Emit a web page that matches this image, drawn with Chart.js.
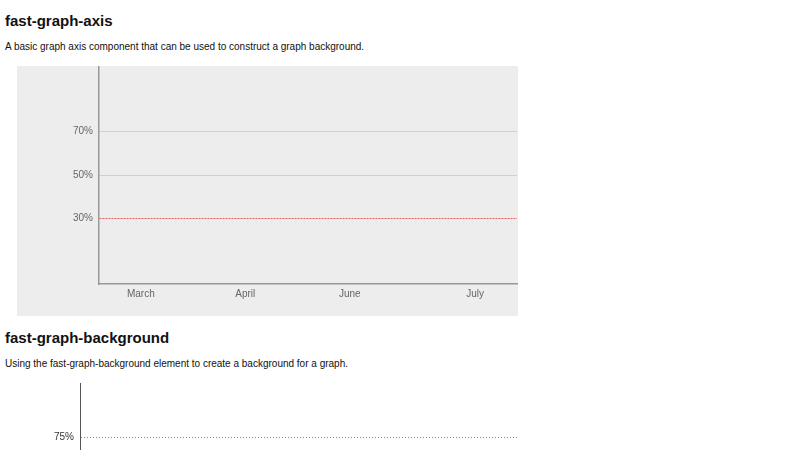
<!DOCTYPE html>
<html>
<head>
<meta charset="utf-8">
<script src="https://cdn.jsdelivr.net/npm/chart.js@4/dist/chart.umd.min.js"></script>
<style>
  html, body { margin: 0; padding: 0; background: #fff; font-family: "Liberation Sans", Arial, sans-serif; color: #111; }
  .h { position: absolute; left: 5px; margin: 0; font-size: 15px; font-weight: bold; line-height: 18px; }
  .p { position: absolute; left: 5px; margin: 0; font-size: 10px; line-height: 12px; }
  .box { position: absolute; }
</style>
</head>
<body>
<div class="h" style="top:12px">fast-graph-axis</div>
<div class="p" style="top:41px">A basic graph axis component that can be used to construct a graph background.</div>
<div class="box" style="left:17px; top:66px; width:501px; height:250px; background:#ededed;">
  <canvas id="c1"></canvas>
</div>
<div class="h" style="top:329px">fast-graph-background</div>
<div class="p" style="top:358px">Using the fast-graph-background element to create a background for a graph.</div>
<div class="box" style="left:0px; top:383px; width:519px; height:250px;">
  <canvas id="c2"></canvas>
</div>
<script>
// ---- Data ----
const xTickValues = [0.1, 0.35, 0.6, 0.9];
const xTickLabels = ['March', 'April', 'June', 'July'];
const yTickValues1 = [30, 50, 70];
const yHighlight1 = 30;
const yTickValues2 = [75];

const FONT = { family: '"Liberation Sans", Arial, sans-serif', size: 10 };

function fixedTicks(values) {
  return function (scale) { scale.ticks = values.map(v => ({ value: v })); };
}
function noPadY(width) {
  return function (s) { s.width = width; s.paddingTop = 0; s.paddingBottom = 0; };
}
function noPadX(height) {
  return function (s) { s.height = height; s.paddingLeft = 0; s.paddingRight = 0; };
}

// ---- Chart 1: fast-graph-axis ----
new Chart(document.getElementById('c1'), {
  type: 'line',
  data: { datasets: [{ data: [] }] },
  options: {
    responsive: true,
    maintainAspectRatio: false,
    animation: false,
    layout: { padding: { top: 0, right: 1, bottom: 0, left: 0 } },
    plugins: { legend: { display: false }, tooltip: { enabled: false } },
    scales: {
      x: {
        type: 'linear', min: 0, max: 1,
        afterBuildTicks: fixedTicks(xTickValues),
        afterFit: noPadX(32),
        ticks: {
          color: '#666', font: FONT, padding: 4, maxRotation: 0, autoSkip: false,
          callback: v => { const i = xTickValues.indexOf(v); return i >= 0 ? xTickLabels[i] : ''; }
        },
        grid: { display: false, drawTicks: false },
        border: { display: true, color: '#999', width: 1.5 }
      },
      y: {
        type: 'linear', min: 0, max: 100,
        afterBuildTicks: fixedTicks(yTickValues1),
        afterFit: noPadY(82),
        ticks: { color: '#666', font: FONT, padding: 6, callback: v => v + '%' },
        grid: {
          drawTicks: false,
          lineWidth: 1,
          color: ctx => (ctx.tick && ctx.tick.value === yHighlight1) ? '#e06060' : '#d0d0d0'
        },
        border: {
          display: true, color: '#999', width: 1.5,
          dash: ctx => (ctx.type === 'tick' && ctx.tick && ctx.tick.value === yHighlight1) ? [2, 1] : []
        }
      }
    }
  }
});

// ---- Chart 2: fast-graph-background ----
new Chart(document.getElementById('c2'), {
  type: 'line',
  data: { datasets: [{ data: [] }] },
  options: {
    responsive: true,
    maintainAspectRatio: false,
    animation: false,
    layout: { padding: { top: 0, right: 1, bottom: 0, left: 0 } },
    plugins: { legend: { display: false }, tooltip: { enabled: false } },
    scales: {
      x: {
        type: 'linear', min: 0, max: 1,
        display: true,
        afterBuildTicks: s => { s.ticks = []; },
        afterFit: noPadX(32),
        grid: { display: false, drawTicks: false },
        border: { display: true, color: '#555', width: 1 },
        ticks: { display: false }
      },
      y: {
        type: 'linear', min: 0, max: 100,
        afterBuildTicks: fixedTicks(yTickValues2),
        afterFit: noPadY(80),
        ticks: { color: '#333', font: FONT, padding: 6, callback: v => v + '%' },
        grid: { drawTicks: false, lineWidth: 1, color: '#888' },
        border: {
          display: true, color: '#555', width: 1,
          dash: ctx => (ctx.type === 'tick') ? [1, 2] : []
        }
      }
    }
  }
});
</script>
</body>
</html>
